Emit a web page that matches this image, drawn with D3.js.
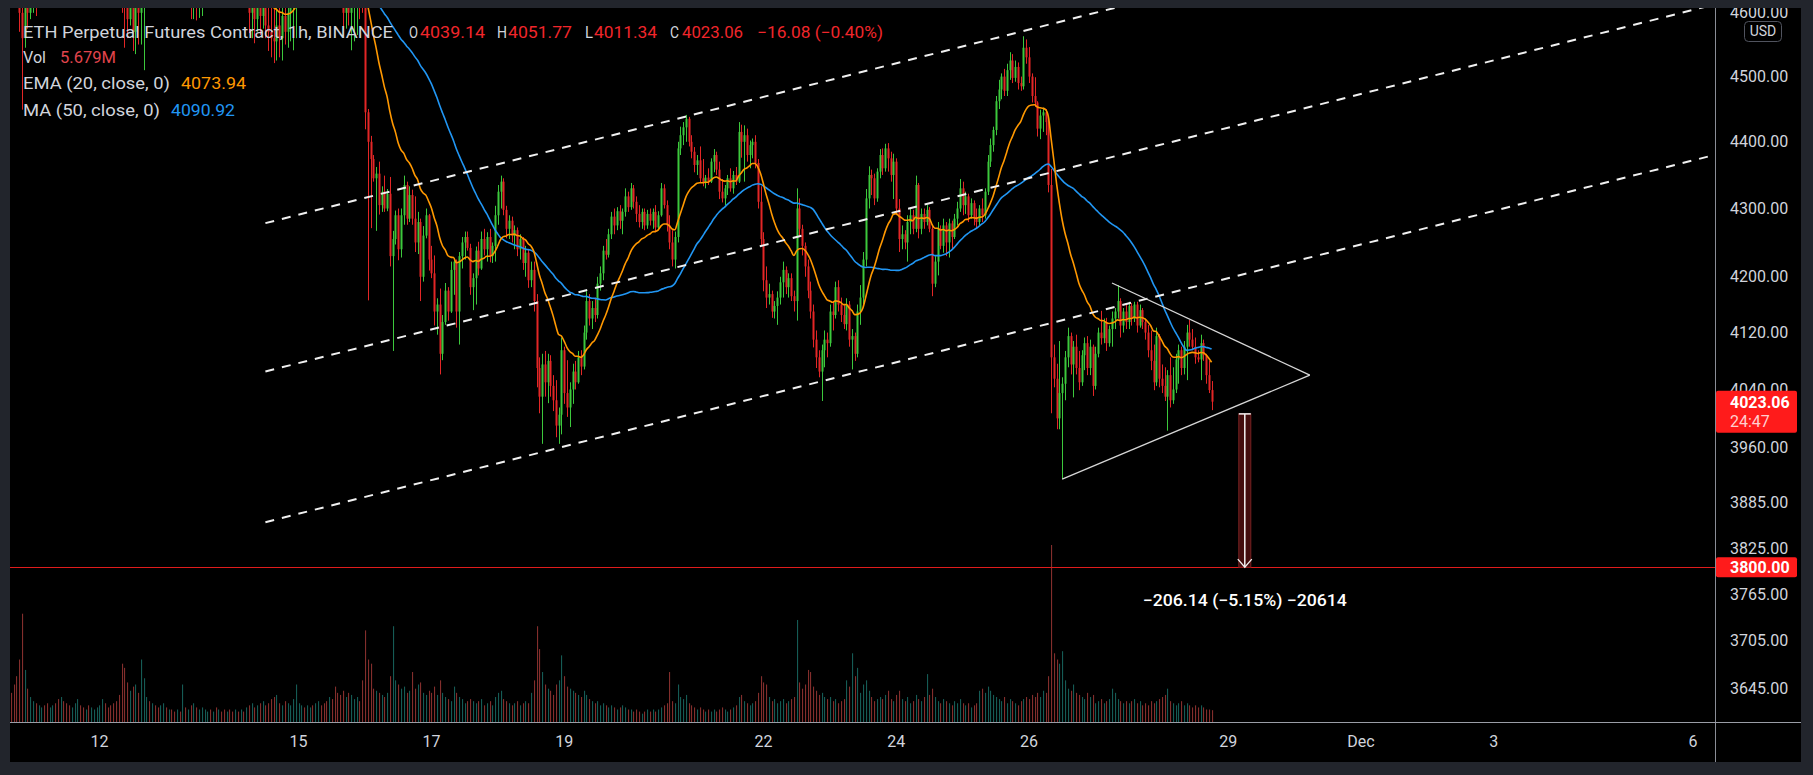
<!DOCTYPE html>
<html><head><meta charset="utf-8">
<script src="https://cdn.jsdelivr.net/npm/d3@7"></script>
<style>
html,body{margin:0;padding:0;background:#22252c;overflow:hidden}
svg{display:block}
text{font-family:Roboto,"Noto Sans",sans-serif}
</style></head><body>
<svg id="chart" width="1813" height="775"></svg>
<script>
// ---------------- DATA ----------------
const firstCandleUTC = [2021, 10, 10, 16]; // Nov 10 2021 16:00, hourly candles
// [open, high, low, close]
const candles = [
[4790,4835,4760,4775],[4775,4790,4700,4715],[4715,4740,4640,4660],[4660,4690,4570,4600],[4600,4655,4449,4560],[4560,4640,4545,4625],[4625,4650,4575,4600],[4600,4660,4590,4645],
[4645,4700,4600,4690],[4690,4720,4595,4665],[4665,4720,4650,4710],[4710,4750,4690,4735],[4735,4760,4700,4720],[4720,4745,4690,4700],[4700,4735,4680,4725],[4725,4770,4710,4755],
[4755,4780,4730,4745],[4745,4760,4700,4715],[4715,4740,4690,4730],[4730,4755,4700,4710],[4710,4730,4680,4700],[4700,4725,4670,4690],[4690,4720,4660,4705],[4705,4740,4690,4725],
[4725,4760,4710,4745],[4745,4775,4725,4730],[4730,4745,4690,4700],[4700,4725,4680,4715],[4715,4730,4670,4680],[4680,4710,4650,4690],[4690,4720,4670,4710],[4710,4740,4690,4720],
[4720,4760,4700,4745],[4745,4790,4730,4780],[4780,4810,4750,4765],[4765,4780,4720,4735],[4735,4760,4700,4720],[4720,4740,4680,4700],[4700,4720,4650,4665],[4665,4690,4620,4640],
[4640,4670,4600,4625],[4625,4660,4545,4610],[4610,4635,4560,4590],[4590,4650,4580,4640],[4640,4650,4540,4570],[4570,4640,4535,4620],[4620,4660,4550,4600],[4600,4650,4550,4640],
[4640,4670,4510,4650],[4650,4690,4630,4675],[4675,4700,4640,4660],[4660,4690,4630,4680],[4680,4710,4650,4665],[4665,4690,4635,4650],[4650,4680,4625,4670],[4670,4700,4650,4690],
[4690,4710,4650,4665],[4665,4690,4640,4680],[4680,4700,4650,4660],[4660,4685,4630,4645],[4645,4670,4620,4655],[4655,4680,4630,4640],[4640,4665,4615,4650],[4650,4670,4620,4630],
[4630,4655,4610,4640],[4640,4650,4590,4615],[4615,4645,4590,4635],[4635,4650,4588,4610],[4610,4640,4592,4630],[4630,4660,4595,4650],[4650,4690,4630,4680],[4680,4705,4660,4690],
[4690,4710,4660,4670],[4670,4695,4645,4680],[4680,4700,4650,4660],[4660,4690,4640,4675],[4675,4700,4655,4665],[4665,4690,4640,4650],[4650,4680,4630,4665],[4665,4690,4645,4655],
[4655,4680,4620,4640],[4640,4665,4615,4650],[4650,4670,4620,4630],[4630,4660,4610,4645],[4645,4660,4615,4625],[4625,4650,4610,4635],[4635,4650,4568,4600],[4600,4640,4560,4625],
[4625,4640,4552,4590],[4590,4630,4570,4615],[4615,4630,4565,4595],[4595,4625,4575,4610],[4610,4625,4560,4580],[4580,4615,4540,4570],[4570,4612,4530,4560],[4560,4615,4521,4555],
[4555,4612,4525,4580],[4580,4618,4530,4560],[4560,4620,4525,4595],[4595,4625,4550,4570],[4570,4620,4545,4600],[4600,4630,4555,4615],[4615,4650,4541,4640],[4640,4680,4560,4670],
[4670,4710,4650,4695],[4695,4720,4670,4705],[4705,4730,4680,4690],[4690,4720,4670,4710],[4710,4740,4690,4725],[4725,4750,4700,4715],[4715,4745,4695,4735],[4735,4770,4720,4755],
[4755,4775,4720,4740],[4740,4765,4715,4730],[4730,4750,4700,4715],[4715,4740,4690,4725],[4725,4745,4690,4700],[4700,4730,4670,4690],[4690,4710,4650,4665],[4665,4690,4610,4640],
[4640,4660,4570,4600],[4600,4640,4575,4625],[4625,4640,4580,4600],[4600,4650,4541,4635],[4635,4665,4555,4650],[4650,4675,4565,4665],[4665,4680,4590,4630],[4630,4650,4600,4615],
[4615,4625,4419,4445],[4445,4450,4166,4400],[4400,4409,4271,4374],[4374,4380,4340,4345],[4345,4362,4267,4352],[4352,4370,4291,4305],[4305,4333,4295,4325],[4325,4349,4295,4300],
[4300,4329,4296,4322],[4322,4347,4215,4230],[4230,4267,4094,4255],[4255,4297,4247,4290],[4290,4300,4224,4240],[4240,4300,4228,4290],[4290,4349,4276,4335],[4335,4340,4276,4285],
[4285,4333,4280,4320],[4320,4328,4276,4285],[4285,4318,4236,4250],[4250,4295,4233,4280],[4280,4285,4165,4200],[4200,4274,4193,4260],[4260,4300,4256,4290],[4290,4292,4209,4225],
[4225,4245,4198,4205],[4205,4231,4130,4150],[4150,4169,4117,4160],[4160,4183,4061,4090],[4090,4145,4081,4135],[4135,4191,4131,4180],[4180,4185,4137,4150],[4150,4222,4148,4210],
[4210,4227,4174,4222],[4222,4225,4127,4150],[4150,4236,4103,4230],[4230,4258,4212,4250],[4250,4266,4225,4258],[4258,4266,4238,4242],[4242,4248,4174,4185],[4185,4205,4152,4198],
[4198,4244,4160,4238],[4238,4251,4202,4212],[4212,4266,4210,4255],[4255,4270,4231,4240],[4240,4265,4222,4258],[4258,4270,4221,4230],[4230,4250,4220,4245],[4245,4304,4222,4290],
[4290,4335,4276,4325],[4325,4349,4300,4340],[4340,4345,4290,4298],[4298,4304,4256,4270],[4270,4290,4255,4282],[4282,4288,4250,4260],[4260,4275,4240,4268],[4268,4272,4230,4240],
[4240,4262,4225,4255],[4255,4258,4210,4220],[4220,4245,4200,4235],[4235,4240,4184,4195],[4195,4222,4185,4210],[4210,4222,4150,4165],[4165,4175,4043,4070],[4070,4085,4007,4030],
[4030,4090,3965,4075],[4075,4094,4030,4050],[4050,4090,4021,4080],[4080,4088,4030,4045],[4045,4060,4010,4025],[4025,4053,3974,3990],[3990,4015,3965,4005],[4005,4113,3978,4095],
[4095,4100,4020,4035],[4035,4081,4002,4015],[4015,4050,3988,4040],[4040,4076,4020,4065],[4065,4080,4040,4050],[4050,4094,4048,4085],[4085,4095,4060,4072],[4072,4130,4068,4120],
[4120,4179,4110,4165],[4165,4175,4130,4140],[4140,4165,4125,4155],[4155,4170,4135,4145],[4145,4200,4140,4190],[4190,4215,4180,4205],[4205,4245,4195,4238],[4238,4255,4225,4232],
[4232,4270,4228,4262],[4262,4295,4255,4288],[4288,4300,4262,4275],[4275,4302,4268,4296],[4296,4305,4270,4282],[4282,4300,4262,4295],[4295,4330,4288,4318],[4318,4325,4295,4302],
[4302,4338,4298,4330],[4330,4335,4300,4310],[4310,4318,4280,4292],[4292,4305,4272,4280],[4280,4300,4270,4295],[4295,4300,4268,4275],[4275,4298,4270,4292],[4292,4300,4275,4282],
[4282,4300,4270,4295],[4295,4305,4265,4272],[4272,4296,4268,4290],[4290,4338,4288,4330],[4330,4336,4300,4305],[4305,4312,4266,4275],[4275,4290,4240,4250],[4250,4268,4215,4225],
[4225,4266,4212,4258],[4258,4400,4250,4390],[4390,4423,4380,4410],[4410,4430,4395,4422],[4422,4441,4400,4435],[4435,4438,4393,4400],[4400,4410,4375,4385],[4385,4392,4354,4365],
[4365,4380,4350,4372],[4372,4393,4338,4345],[4345,4374,4333,4338],[4338,4350,4330,4346],[4346,4360,4335,4340],[4340,4375,4338,4370],[4370,4389,4354,4380],[4380,4385,4350,4358],
[4358,4370,4314,4325],[4325,4344,4309,4315],[4315,4335,4305,4330],[4330,4350,4320,4345],[4345,4360,4325,4330],[4330,4356,4322,4350],[4350,4362,4335,4340],[4340,4430,4338,4415],
[4415,4426,4376,4400],[4400,4425,4340,4410],[4410,4420,4370,4380],[4380,4402,4360,4395],[4395,4405,4375,4400],[4400,4410,4360,4368],[4368,4374,4300,4310],[4310,4333,4245,4255],
[4255,4265,4179,4195],[4195,4215,4155,4170],[4170,4190,4160,4175],[4175,4180,4141,4150],[4150,4165,4140,4158],[4158,4179,4131,4170],[4170,4200,4160,4192],[4192,4222,4170,4210],
[4210,4215,4175,4185],[4185,4205,4170,4198],[4198,4205,4165,4172],[4172,4180,4150,4165],[4165,4330,4137,4300],[4300,4315,4260,4270],[4270,4276,4231,4245],[4245,4250,4200,4215],
[4215,4225,4169,4180],[4180,4193,4140,4150],[4150,4160,4099,4110],[4110,4123,4070,4085],[4085,4095,4057,4065],[4065,4103,4024,4095],[4095,4123,4071,4110],[4110,4120,4085,4105],
[4105,4160,4100,4150],[4150,4165,4123,4145],[4145,4193,4140,4185],[4185,4195,4150,4160],[4160,4170,4135,4145],[4145,4160,4125,4132],[4132,4169,4123,4160],[4160,4165,4100,4110],
[4110,4125,4068,4115],[4115,4120,4080,4090],[4090,4160,4085,4150],[4150,4188,4131,4170],[4170,4236,4160,4225],[4225,4329,4215,4315],[4315,4363,4300,4350],[4350,4358,4320,4345],
[4345,4352,4305,4315],[4315,4360,4310,4355],[4355,4389,4345,4380],[4380,4390,4350,4360],[4360,4397,4355,4390],[4390,4398,4355,4375],[4375,4385,4340,4350],[4350,4382,4314,4370],
[4370,4375,4290,4300],[4300,4314,4236,4255],[4255,4275,4240,4262],[4262,4268,4240,4250],[4250,4290,4222,4280],[4280,4300,4262,4290],[4290,4298,4262,4270],[4270,4349,4265,4335],
[4335,4338,4256,4270],[4270,4300,4262,4292],[4292,4300,4270,4280],[4280,4305,4275,4298],[4298,4302,4265,4270],[4270,4275,4172,4190],[4190,4230,4185,4222],[4222,4280,4202,4270],
[4270,4275,4240,4245],[4245,4285,4235,4275],[4275,4280,4230,4250],[4250,4285,4228,4278],[4278,4282,4240,4258],[4258,4292,4255,4285],[4285,4310,4275,4300],[4300,4344,4295,4330],
[4330,4340,4290,4305],[4305,4325,4292,4318],[4318,4322,4280,4290],[4290,4315,4285,4308],[4308,4312,4275,4285],[4285,4300,4270,4280],[4280,4305,4275,4300],[4300,4315,4280,4290],
[4290,4330,4285,4325],[4325,4380,4320,4370],[4370,4405,4362,4395],[4395,4423,4385,4418],[4418,4470,4410,4462],[4462,4495,4450,4480],[4480,4505,4465,4500],[4500,4512,4470,4478],
[4478,4520,4470,4510],[4510,4538,4495,4525],[4525,4535,4490,4498],[4498,4525,4492,4515],[4515,4522,4480,4490],[4490,4500,4478,4485],[4485,4563,4480,4545],[4545,4558,4520,4530],
[4530,4546,4490,4500],[4500,4505,4460,4470],[4470,4499,4453,4460],[4460,4462,4408,4420],[4420,4449,4404,4440],[4440,4452,4415,4445],[4445,4450,4410,4430],[4430,4438,4324,4335],
[4335,4359,4007,4085],[4085,4103,4043,4055],[4055,4076,3985,4000],[4000,4108,3985,4035],[4035,4057,3917,4048],[4048,4094,4025,4085],[4085,4127,4071,4115],[4115,4120,4061,4075],
[4075,4108,4029,4100],[4100,4117,4061,4070],[4070,4094,4039,4050],[4050,4095,4045,4088],[4088,4113,4067,4105],[4105,4115,4060,4070],[4070,4110,4060,4100],[4100,4103,4031,4045],
[4045,4100,4040,4090],[4090,4127,4085,4120],[4120,4151,4103,4112],[4112,4140,4105,4135],[4135,4141,4094,4105],[4105,4130,4100,4125],[4125,4150,4100,4140],[4140,4155,4125,4150],
[4150,4188,4140,4165],[4165,4169,4113,4130],[4130,4155,4120,4150],[4150,4160,4125,4135],[4135,4164,4125,4158],[4158,4162,4130,4140],[4140,4164,4135,4160],[4160,4164,4120,4130],
[4130,4160,4127,4152],[4152,4155,4125,4135],[4135,4140,4110,4120],[4120,4131,4085,4095],[4095,4123,4067,4080],[4080,4103,4039,4050],[4050,4127,4045,4115],[4115,4118,4043,4055],
[4055,4075,4035,4045],[4045,4071,4024,4030],[4030,4067,3983,4060],[4060,4085,4015,4025],[4025,4071,4020,4040],[4040,4090,4035,4082],[4082,4103,4048,4095],[4095,4100,4060,4070],
[4070,4108,4061,4100],[4100,4131,4053,4120],[4120,4138,4100,4110],[4110,4125,4095,4100],[4100,4113,4076,4085],[4085,4095,4078,4082],[4082,4117,4053,4105],[4105,4110,4080,4088],
[4088,4090,4048,4060],[4060,4080,4035,4039.14],[4039.14,4051.77,4011.34,4023.06]
];
// volume in millions
const volumes = [
14,18,22,30,52,25,16,12,
10,9,8,7,8,9,7,8,9,11,12,10,9,8,7,9,11,8,7,6,8,7,6,7,
8,11,9,7,8,9,10,13,28,26,19,15,17,18,14,30,21,12,10,9,8,7,8,9,
7,6,6,5,6,5,18,7,6,8,9,7,6,7,6,5,6,5,7,6,5,6,5,6,
5,6,5,6,5,7,8,9,7,8,9,10,8,9,11,12,13,9,8,10,9,8,11,18,
9,8,7,8,7,8,9,10,8,9,10,12,11,17,14,13,15,12,14,13,11,12,10,20,
44,30,28,16,15,14,13,12,14,22,46,20,18,16,17,14,15,24,16,18,19,14,13,15,
14,17,13,20,14,12,11,10,17,14,12,11,9,10,11,10,9,10,11,8,9,10,8,12,
14,15,11,10,9,8,9,10,8,9,10,9,14,20,46,35,24,18,16,15,13,18,20,32,
22,17,16,15,14,13,12,15,13,11,10,9,10,8,9,8,7,8,7,6,7,8,7,6,
6,5,6,5,4,5,6,5,6,5,6,7,8,9,24,10,9,18,12,11,13,9,8,7,
6,7,6,5,6,5,6,5,6,7,6,5,6,7,8,12,13,10,9,8,9,10,14,22,
19,18,12,10,11,9,10,11,9,10,11,12,49,19,16,18,25,24,17,15,13,14,12,11,
12,10,11,9,10,11,20,17,33,22,26,14,18,20,15,12,10,11,12,11,13,15,11,10,
13,15,11,10,12,9,10,13,11,10,12,23,13,16,12,10,9,11,10,9,8,10,9,11,
9,8,9,7,8,9,15,16,14,17,15,13,12,11,10,12,9,11,10,9,8,10,11,12,
11,13,12,14,12,15,14,22,85,33,30,28,34,20,16,15,18,14,13,12,11,14,12,13,
9,10,11,9,10,11,16,14,11,10,9,10,9,10,11,9,10,8,9,8,10,9,10,11,
12,13,16,10,9,8,9,10,8,9,8,7,8,7,8,7,6,6,5.679
];
const priceTicks = [4600,4500,4400,4300,4200,4120,4040,3960,3885,3825,3765,3705,3645];
const dateTickDays = [[2021,10,12],[2021,10,15],[2021,10,17],[2021,10,19],[2021,10,22],[2021,10,24],[2021,10,26],[2021,10,29],[2021,11,1],[2021,11,3],[2021,11,6]];
const dateTickLabels = ["12","15","17","19","22","24","26","29","Dec","3","6"];
// channel (three parallel dashed lines): start and a second anchor
const channelAnchorTimes = [[2021,10,14,12],[2021,10,28,0]];
const channelStartPrices = [4278.4, 4065.1, 3859.4];
const channelEndPrices = [4626.8, 4396.0, 4173.7];
// triangle pattern
const triangleTop = {t:[2021,10,27,6], p:4191};
const triangleBottom = {t:[2021,10,26,12], p:3917};
const triangleApex = {t:[2021,10,30,5,30], p:4060};
// target / measurement
const targetPrice = 3800;
const measureTime = [2021,10,29,6];
const measureFrom = 4006.14;
const measureLabel = "\u2212206.14 (\u22125.15%) \u221220614";
const lastPrice = "4023.06", countdown = "24:47";

// ---------------- DRAW ----------------
const U = a => new Date(Date.UTC(...a));
const svg = d3.select('#chart');
const P = {x0:10, x1:1715, y0:8, y1:722};
const x = d3.scaleUtc().domain([U([2021,10,12]), U([2021,11,6])]).range([99.4, 1693]);
const y = d3.scaleLog().domain([4500, 3645]).range([76.6, 688]);
const yVol = d3.scaleLinear().domain([0, 85]).range([722, 545]);
const t0 = U(firstCandleUTC).getTime();
const times = candles.map((d,i)=> new Date(t0 + i*3600000));

const UP = "#3cc83c", DOWN = "#e32626";
const UPV = "rgba(38,166,154,0.55)", DOWNV = "rgba(239,83,80,0.55)";

svg.append('rect').attr('width',1813).attr('height',775).attr('fill','#22252c');
svg.append('rect').attr('x',10).attr('y',8).attr('width',1791).attr('height',754).attr('fill','#000');

const defs = svg.append('defs');
defs.append('clipPath').attr('id','pane').append('rect').attr('x',P.x0).attr('y',P.y0).attr('width',P.x1-P.x0).attr('height',P.y1-P.y0);
defs.append('clipPath').attr('id','axis').append('rect').attr('x',P.x1+1).attr('y',P.y0).attr('width',86).attr('height',P.y1-P.y0);

const g = svg.append('g').attr('clip-path','url(#pane)');

// volumes
g.append('g').selectAll('rect').data(volumes).join('rect')
  .attr('x',(v,i)=>Math.round(x(times[i]))).attr('width',1.1)
  .attr('y',v=>yVol(v)).attr('height',v=>722-yVol(v))
  .attr('fill',(v,i)=> candles[i][3]>=candles[i][0]?UPV:DOWNV);

// candles
const cg = g.append('g');
candles.forEach((d,i)=>{
  const cx = Math.round(x(times[i]));
  const col = d[3]>=d[0]?UP:DOWN;
  cg.append('line').attr('x1',cx+0.5).attr('x2',cx+0.5).attr('y1',y(d[1])).attr('y2',y(d[2]))
    .attr('stroke',col).attr('stroke-width',1);
  const top = y(Math.max(d[0],d[3])), bot = y(Math.min(d[0],d[3]));
  cg.append('rect').attr('x',cx-0.5).attr('width',2).attr('y',top).attr('height',Math.max(1,bot-top)).attr('fill',col);
});

// indicators
const closes = candles.map(d=>d[3]);
const k = 2/21; let e = closes[0];
const ema = closes.map((c,i)=> (e = i===0 ? c : e + k*(c-e)));
const ma = closes.map((c,i)=> i<49 ? null : d3.mean(closes.slice(i-49,i+1)));
const line = d3.line().defined(d=>d[1]!=null).x(d=>x(d[0])).y(d=>y(d[1])).curve(d3.curveMonotoneX);
g.append('path').attr('d',line(times.map((t,i)=>[t,ma[i]]))).attr('fill','none').attr('stroke','#2196f3').attr('stroke-width',1.6);
g.append('path').attr('d',line(times.map((t,i)=>[t,ema[i]]))).attr('fill','none').attr('stroke','#ff9800').attr('stroke-width',1.6);

// channel lines
const ca = U(channelAnchorTimes[0]), cb = U(channelAnchorTimes[1]);
channelStartPrices.forEach((p,j)=>{
  const x1 = x(ca), y1 = y(p), x2 = x(cb), y2 = y(channelEndPrices[j]);
  const m = (y2-y1)/(x2-x1);
  g.append('line').attr('x1',x1).attr('y1',y1).attr('x2',P.x1).attr('y2',y1+m*(P.x1-x1))
   .attr('stroke','#f0f0f0').attr('stroke-width',2).attr('stroke-dasharray','9,8');
});

// triangle
const ap = [x(U(triangleApex.t)), y(triangleApex.p)];
[[triangleTop],[triangleBottom]].forEach(([pt])=>{
  g.append('line').attr('x1',x(U(pt.t))).attr('y1',y(pt.p)).attr('x2',ap[0]).attr('y2',ap[1])
   .attr('stroke','#d6d6d6').attr('stroke-width',1.3);
});

// target line
g.append('line').attr('x1',P.x0).attr('x2',P.x1).attr('y1',Math.round(y(targetPrice))+0.5).attr('y2',Math.round(y(targetPrice))+0.5)
  .attr('stroke','#e01c1c').attr('stroke-width',1.2);

// measurement
const mx = x(U(measureTime)), mTop = y(measureFrom), mBot = y(targetPrice);
g.append('rect').attr('x',mx-6).attr('y',mTop).attr('width',12).attr('height',mBot-mTop)
  .attr('fill','rgba(120,24,24,0.55)').attr('stroke','#7a2222').attr('stroke-width',1);
g.append('line').attr('x1',mx).attr('x2',mx).attr('y1',mTop).attr('y2',mBot).attr('stroke','#f2f2f2').attr('stroke-width',1.5);
g.append('line').attr('x1',mx-6).attr('x2',mx+6).attr('y1',mTop).attr('y2',mTop).attr('stroke','#f2f2f2').attr('stroke-width',1.5);
g.append('path').attr('d',`M${mx-7},${mBot-8}L${mx},${mBot}L${mx+7},${mBot-8}`).attr('fill','none').attr('stroke','#f2f2f2').attr('stroke-width',1.3);
g.append('text').attr('x',mx).attr('y',mBot+39).attr('text-anchor','middle').attr('fill','#fff')
  .attr('font-size',16).attr('font-weight',500).attr('textLength',204).attr('lengthAdjust','spacingAndGlyphs').text(measureLabel);

// separators
svg.append('line').attr('x1',P.x1+0.5).attr('x2',P.x1+0.5).attr('y1',8).attr('y2',762).attr('stroke','#8a8d96');
svg.append('line').attr('x1',10).attr('x2',1801).attr('y1',P.y1+0.5).attr('y2',P.y1+0.5).attr('stroke','#9a9da6');

// price axis
const ax = svg.append('g').attr('clip-path','url(#axis)');
priceTicks.forEach(p=>{
  ax.append('text').attr('x',1730).attr('y',y(p)+5.5).attr('fill','#d1d4dc').attr('font-size',16).text(p.toFixed(2));
});
// USD box
ax.append('rect').attr('x',1744.5).attr('y',21.5).attr('width',37).attr('height',20).attr('rx',4)
  .attr('fill','#000').attr('stroke','#50535e');
ax.append('text').attr('x',1763).attr('y',36).attr('text-anchor','middle').attr('fill','#d1d4dc').attr('font-size',14).text('USD');
// last price badge
const ly = y(+lastPrice);
ax.append('rect').attr('x',1716).attr('y',ly-11).attr('width',81).attr('height',42).attr('rx',2).attr('fill','#ff1b1b');
ax.append('text').attr('x',1730).attr('y',ly+6).attr('fill','#fff').attr('font-size',16).attr('font-weight',700).text(lastPrice);
ax.append('text').attr('x',1730).attr('y',ly+25).attr('fill','#ffd0d0').attr('font-size',16).text(countdown);
// target badge
const ty = y(targetPrice);
ax.append('rect').attr('x',1716).attr('y',ty-10).attr('width',81).attr('height',20).attr('rx',2).attr('fill','#ff1b1b');
ax.append('text').attr('x',1730).attr('y',ty+6).attr('fill','#fff').attr('font-size',16).attr('font-weight',700).text(targetPrice.toFixed(2));

// time axis
dateTickDays.forEach((d,i)=>{
  svg.append('text').attr('x',x(U(d))).attr('y',747).attr('text-anchor','middle').attr('fill','#d1d4dc').attr('font-size',16).text(dateTickLabels[i]);
});

// legend
const LEG = [
  ["ETH Perpetual Futures Contract, 1h, BINANCE",23,370,37.5,"#d1d4dc"],
  ["O",409,9,37.5,"#d1d4dc"],["4039.14",420,65,37.5,"#f0262b"],
  ["H",497,10,37.5,"#d1d4dc"],["4051.77",508,64,37.5,"#f0262b"],
  ["L",585,8,37.5,"#d1d4dc"],["4011.34",594,63,37.5,"#f0262b"],
  ["C",670,9,37.5,"#d1d4dc"],["4023.06",682,61,37.5,"#f0262b"],
  ["\u221216.08 (\u22120.40%)",757,126,37.5,"#f0262b"],
  ["Vol",23,23,63,"#d1d4dc"],["5.679M",60,56,63,"#e0454d"],
  ["EMA (20, close, 0)",23,147,89,"#d1d4dc"],["4073.94",181,65,89,"#ff9800"],
  ["MA (50, close, 0)",23,137,115.7,"#d1d4dc"],["4090.92",171,64,115.7,"#2196f3"]
];
LEG.forEach(([s,lx,w,ly2,c])=>{
  svg.append('text').attr('x',lx).attr('y',ly2).attr('fill',c).attr('font-size',16)
    .attr('textLength',w).attr('lengthAdjust','spacingAndGlyphs').text(s);
});
</script>
</body></html>
